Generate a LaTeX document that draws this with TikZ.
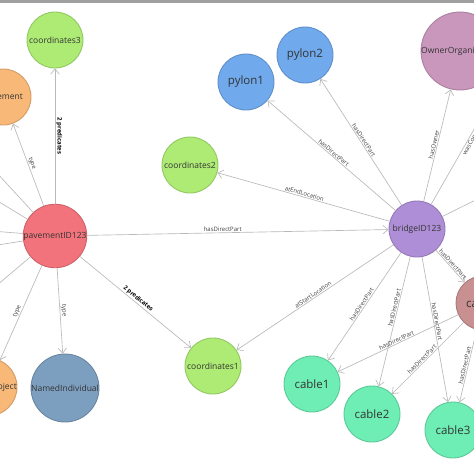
\documentclass[tikz,border=0pt]{standalone}
\usepackage{fontspec}
\setmainfont{Open Sans}
\usetikzlibrary{arrows.meta}
\definecolor{KGcoord}{HTML}{ADEB74}
\definecolor{KGclass}{HTML}{F8B878}
\definecolor{KGpave}{HTML}{F2737B}
\definecolor{KGnamed}{HTML}{7D9FBF}
\definecolor{KGbridge}{HTML}{AE8ED6}
\definecolor{KGpylon}{HTML}{70A9EC}
\definecolor{KGowner}{HTML}{C996BC}
\definecolor{KGcab}{HTML}{C89090}
\definecolor{KGcable}{HTML}{6EEDB4}
\tikzset{kgnode/.style={circle,draw=#1!85!black,fill=#1,line width=0.9pt,
 minimum size=56pt,inner sep=0pt,text=black!80,font=\fontsize{8.5}{9}\selectfont},
 kgbig/.style={font=\fontsize{11.5}{12}\selectfont},
 kgedge/.style={-{Straight Barb[length=1.8mm,width=3mm]},draw=gray!55,line width=0.65pt},
 kglbl/.style={font=\fontsize{6}{7}\selectfont,text=black!75,sloped,above,inner sep=0.8pt},
 kgbold/.style={font=\fontsize{6}{7}\selectfont\bfseries,text=black,inner sep=0.8pt}}

\begin{document}
\begin{tikzpicture}[x=1pt,y=-1pt]
\useasboundingbox (0,0) rectangle (474,474);
\fill[white] (0,0) rectangle (474,474);
\clip (0,0) rectangle (474,474);
\fill[gray!75] (0,0) rectangle (474,2.5);

% pavement side
\node[kgnode=KGcoord] (coord3) at (55,40) {coordinates3};
\node[kgnode=KGclass] (pavcls) at (3,97) {Pavement};
\node[kgnode=KGpave] (pave) at (55,236) {pavementID123};
\node[kgnode=KGclass] (objcls) at (-12,387) {PhysicalObject};
\node[kgnode=KGnamed] (named) at (65,388) {NamedIndividual};
\node[kgnode=KGcoord] (coord1) at (213,366) {coordinates1};
\coordinate (offA) at (-40,133);
\coordinate (offB) at (-50,172);
\coordinate (offC) at (-60,227);
\coordinate (offD) at (-60,254);
\coordinate (offE) at (-50,325);

% bridge side
\node[kgnode=KGbridge] (bridge) at (417,229) {bridgeID123};
\node[kgnode=KGcoord] (coord2) at (190,165) {coordinates2};
\node[kgnode=KGpylon,kgbig] (pylon1) at (246,82) {pylon1};
\node[kgnode=KGpylon,kgbig] (pylon2) at (305,55) {pylon2};
\node[kgnode=KGowner] (owner) at (460,51) {OwnerOrganization};
\node[kgnode=KGcab,minimum size=54pt,kgbig] (cab) at (483,303) {cables};
\node[kgnode=KGcable,kgbig] (cable1) at (312,384) {cable1};
\node[kgnode=KGcable,kgbig] (cable2) at (372,414) {cable2};
\node[kgnode=KGcable,kgbig] (cable3) at (453,430) {cable3};
\coordinate (offF) at (500,84);
\coordinate (offG) at (510,183);

\draw[kgedge] (pave) -- node[kgbold,rotate=-90,above]{2 predicates} (coord3);
\draw[kgedge] (pave) -- node[kglbl]{type} (pavcls);
\draw[kgedge] (pave) -- (offA);
\draw[kgedge] (pave) -- (offB);
\draw[kgedge] (pave) -- (offC);
\draw[kgedge] (pave) -- (offD);
\draw[kgedge] (pave) -- (offE);
\draw[kgedge] (pave) -- node[kglbl]{type} (objcls);
\draw[kgedge] (pave) -- node[kglbl]{type} (named);
\draw[kgedge] (pave) -- node[kgbold,sloped,above]{2 predicates} (coord1);
\draw[kgedge] (pave) -- node[kglbl,pos=0.45]{hasDirectPart} (bridge);

\draw[kgedge] (bridge) -- node[kglbl]{atEndLocation} (coord2);
\draw[kgedge] (bridge) -- node[kglbl]{hasDirectPart} (pylon1);
\draw[kgedge] (bridge) -- node[kglbl]{hasDirectPart} (pylon2);
\draw[kgedge] (bridge) -- node[kglbl]{hasOwner} (owner);
\draw[kgedge] (bridge) -- node[kglbl,below,pos=0.62]{wasConstructedBy} (offF);
\draw[kgedge] (bridge) -- (offG);
\draw[kgedge] (bridge) -- node[kglbl]{hasDirectPart} (cab);
\draw[kgedge] (bridge) -- node[kglbl]{atStartLocation} (coord1);
\draw[kgedge] (bridge) -- node[kglbl]{hasDirectPart} (cable1);
\draw[kgedge] (bridge) -- node[kglbl,pos=0.4]{hasDirectPart} (cable2);
\draw[kgedge] (bridge) -- node[kglbl,pos=0.45]{hasDirectPart} (cable3);
\draw[kgedge] (cab) -- node[kglbl,pos=0.5]{hasDirectPart} (cable1);
\draw[kgedge] (cab) -- node[kglbl,pos=0.55]{hasDirectPart} (cable2);
\draw[kgedge] (cab) -- node[kglbl]{hasDirectPart} (cable3);
\end{tikzpicture}
\end{document}
